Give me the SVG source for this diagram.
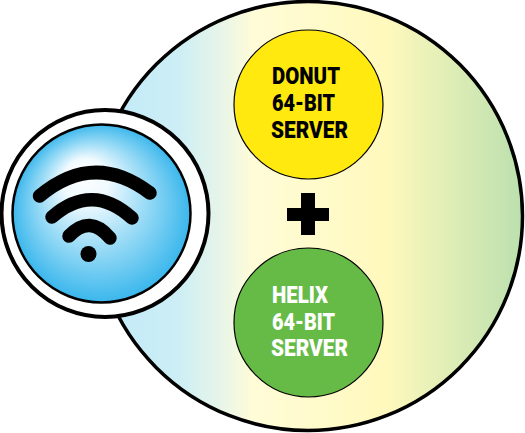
<svg xmlns="http://www.w3.org/2000/svg" width="525" height="433" viewBox="0 0 525 433">
<style>
.lbl{font-family:"Roboto","Liberation Sans",sans-serif;font-weight:900;font-size:24.5px}
.wifi{fill:none;stroke:#000;stroke-linecap:round;stroke-width:13.500}
</style>
<defs>
<linearGradient id="bg" gradientUnits="userSpaceOnUse" x1="93" y1="0" x2="523" y2="0">
<stop offset="0" stop-color="#bfeafa"/>
<stop offset="0.2" stop-color="#cdeef5"/>
<stop offset="0.3" stop-color="#e8f5e8"/>
<stop offset="0.37" stop-color="#fffcd8"/>
<stop offset="0.68" stop-color="#fff9bd"/>
<stop offset="1" stop-color="#bbe0ae"/>
</linearGradient>
<radialGradient id="sky" gradientUnits="userSpaceOnUse" cx="101.500" cy="213.500" r="90" fx="80" fy="170">
<stop offset="0" stop-color="#ffffff"/>
<stop offset="0.25" stop-color="#f0faff"/>
<stop offset="0.55" stop-color="#a4dff7"/>
<stop offset="1" stop-color="#38b6ec"/>
</radialGradient>
</defs>
<g id="server-group"><circle cx="308" cy="216" r="214.500" fill="url(#bg)" stroke="#000" stroke-width="3.500"/></g>
<g id="wifi-node">
<circle cx="105" cy="213.500" r="103.500" fill="#fff" stroke="#000" stroke-width="4"/>
<circle cx="101.500" cy="213.500" r="89" fill="url(#sky)" stroke="#000" stroke-width="2.500"/>
<path class="wifi" d="M39.500 196 Q94 150.500 150 193"/>
<path class="wifi" d="M52 217 Q92 182 132 218"/>
<path class="wifi" d="M69 236 Q90 214 110 238"/>
<circle cx="88.500" cy="254" r="8"/>
</g>
<g id="donut-node">
<circle cx="308.500" cy="104.500" r="74.500" fill="#ffe90f" stroke="#000" stroke-width="1.200"/>
<text class="lbl" x="272" y="84" textLength="68" lengthAdjust="spacingAndGlyphs">DONUT</text>
<text class="lbl" x="272" y="110.700" textLength="63" lengthAdjust="spacingAndGlyphs">64-BIT</text>
<text class="lbl" x="271" y="137.700" textLength="77" lengthAdjust="spacingAndGlyphs">SERVER</text>
</g>
<g id="plus"><path d="M301 193H315V208H329V221H315V235H301V221H287V208H301Z" fill="#000"/></g>
<g id="helix-node">
<circle cx="308.500" cy="322.500" r="74.500" fill="#66bb46" stroke="#000" stroke-width="1.200"/>
<text class="lbl" fill="#fff" x="272" y="303.300" textLength="56" lengthAdjust="spacingAndGlyphs">HELIX</text>
<text class="lbl" fill="#fff" x="272" y="330" textLength="63" lengthAdjust="spacingAndGlyphs">64-BIT</text>
<text class="lbl" fill="#fff" x="271" y="356.300" textLength="77" lengthAdjust="spacingAndGlyphs">SERVER</text>
</g>
<g id="connectors"></g>
</svg>
